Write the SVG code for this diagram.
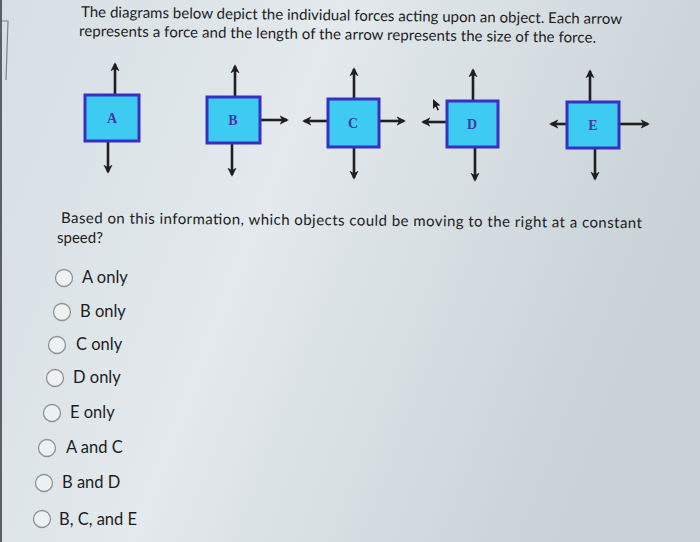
<svg xmlns="http://www.w3.org/2000/svg" width="700" height="542" viewBox="0 0 700 542">
<defs>
<linearGradient id="bg" x1="0" y1="0" x2="1" y2="0.3">
<stop offset="0" stop-color="#d6dfe4"/>
<stop offset="0.45" stop-color="#e3e9ec"/>
<stop offset="1" stop-color="#c8d2d7"/>
</linearGradient>
<marker id="ah" viewBox="0 0 10 10" refX="8" refY="5" markerWidth="3.6" markerHeight="3.6" orient="auto" markerUnits="strokeWidth">
<path d="M0,0 L10,5 L0,10 L3,5 z" fill="#1f1f22"/>
</marker>
<style>
.box{fill:#3dcbf1;stroke:#3a2fc4;stroke-width:3}
.lbl{font-family:"Liberation Serif",serif;font-weight:bold;font-size:14px;fill:#4a36a6;text-anchor:middle}
.arr{stroke:#1f1f22;stroke-width:2.6;fill:none;marker-end:url(#ah)}
.txt{font-family:Lato,"Open Sans",sans-serif;font-size:15px;fill:#1d1d1f}
.opt{font-family:Lato,"Open Sans",sans-serif;font-size:16.5px;fill:#1d1d1f}
.rad{fill:#eef1f2;stroke:#8e9396;stroke-width:1.3}
</style>
</defs>
<rect width="700" height="542" fill="url(#bg)"/>
<path d="M0,21 L8,21 L6,80" fill="none" stroke="#7d8488" stroke-width="1.2"/>
<rect x="0" y="0" width="2" height="542" fill="#5a6064"/>

<text class="txt" x="81" y="17" textLength="541" lengthAdjust="spacing" transform="rotate(0.75 81 17)">The diagrams below depict the individual forces acting upon an object. Each arrow</text>
<text class="txt" x="79" y="36" textLength="517" lengthAdjust="spacing" transform="rotate(0.75 79 36)">represents a force and the length of the arrow represents the size of the force.</text>

<g id="connectors">
<line class="arr" x1="115" y1="95" x2="115" y2="64"/>
<line class="arr" x1="108" y1="141" x2="108" y2="172"/>
<line class="arr" x1="235" y1="97" x2="235" y2="66"/>
<line class="arr" x1="232" y1="143" x2="232" y2="175"/>
<line class="arr" x1="260" y1="120" x2="287" y2="120"/>
<line class="arr" x1="354" y1="99" x2="354" y2="69"/>
<line class="arr" x1="354" y1="147" x2="354" y2="178"/>
<line class="arr" x1="328" y1="121" x2="304" y2="121"/>
<line class="arr" x1="379" y1="121" x2="404" y2="121"/>
<line class="arr" x1="473" y1="101" x2="473" y2="70"/>
<line class="arr" x1="475" y1="147" x2="475" y2="180"/>
<line class="arr" x1="447" y1="122" x2="423" y2="122"/>
<line class="arr" x1="590" y1="102" x2="590" y2="71"/>
<line class="arr" x1="595" y1="148" x2="595" y2="179"/>
<line class="arr" x1="567" y1="124" x2="551" y2="124"/>
<line class="arr" x1="619" y1="124" x2="648" y2="124"/>
</g>

<g id="A"><rect class="box" x="85" y="95" width="54" height="46"/><text class="lbl" x="112" y="123">A</text></g>
<g id="B"><rect class="box" x="207" y="97" width="53" height="46"/><text class="lbl" x="233" y="125">B</text></g>
<g id="C"><rect class="box" x="328" y="99" width="51" height="48"/><text class="lbl" x="353" y="128">C</text></g>
<g id="D"><rect class="box" x="447" y="101" width="51" height="46"/><text class="lbl" x="472" y="129">D</text></g>
<g id="E"><rect class="box" x="567" y="102" width="52" height="46"/><text class="lbl" x="593" y="130">E</text></g>

<path d="M433,99 L433,109 L435.5,106.5 L437.5,110.5 L439,109.8 L437,105.8 L440.5,105.5 z" fill="#1a1a1a"/>

<text class="txt" x="61" y="223" textLength="581" lengthAdjust="spacing" transform="rotate(0.5 61 223)">Based on this information, which objects could be moving to the right at a constant</text>
<text class="txt" x="57" y="243">speed?</text>

<g id="opt1"><circle class="rad" cx="64" cy="278" r="8.5"/><text class="opt" x="82" y="283">A only</text></g>
<g id="opt2"><circle class="rad" cx="62" cy="312" r="8.5"/><text class="opt" x="80" y="317">B only</text></g>
<g id="opt3"><circle class="rad" cx="57" cy="345" r="8.5"/><text class="opt" x="76" y="350">C only</text></g>
<g id="opt4"><circle class="rad" cx="55" cy="378" r="8.5"/><text class="opt" x="73" y="383">D only</text></g>
<g id="opt5"><circle class="rad" cx="52" cy="413" r="8.5"/><text class="opt" x="70" y="418">E only</text></g>
<g id="opt6"><circle class="rad" cx="47" cy="448" r="8.5"/><text class="opt" x="66" y="453">A and C</text></g>
<g id="opt7"><circle class="rad" cx="44" cy="483" r="8.5"/><text class="opt" x="62" y="488">B and D</text></g>
<g id="opt8"><circle class="rad" cx="42" cy="519" r="8.5"/><text class="opt" x="59" y="525">B, C, and E</text></g>
</svg>
